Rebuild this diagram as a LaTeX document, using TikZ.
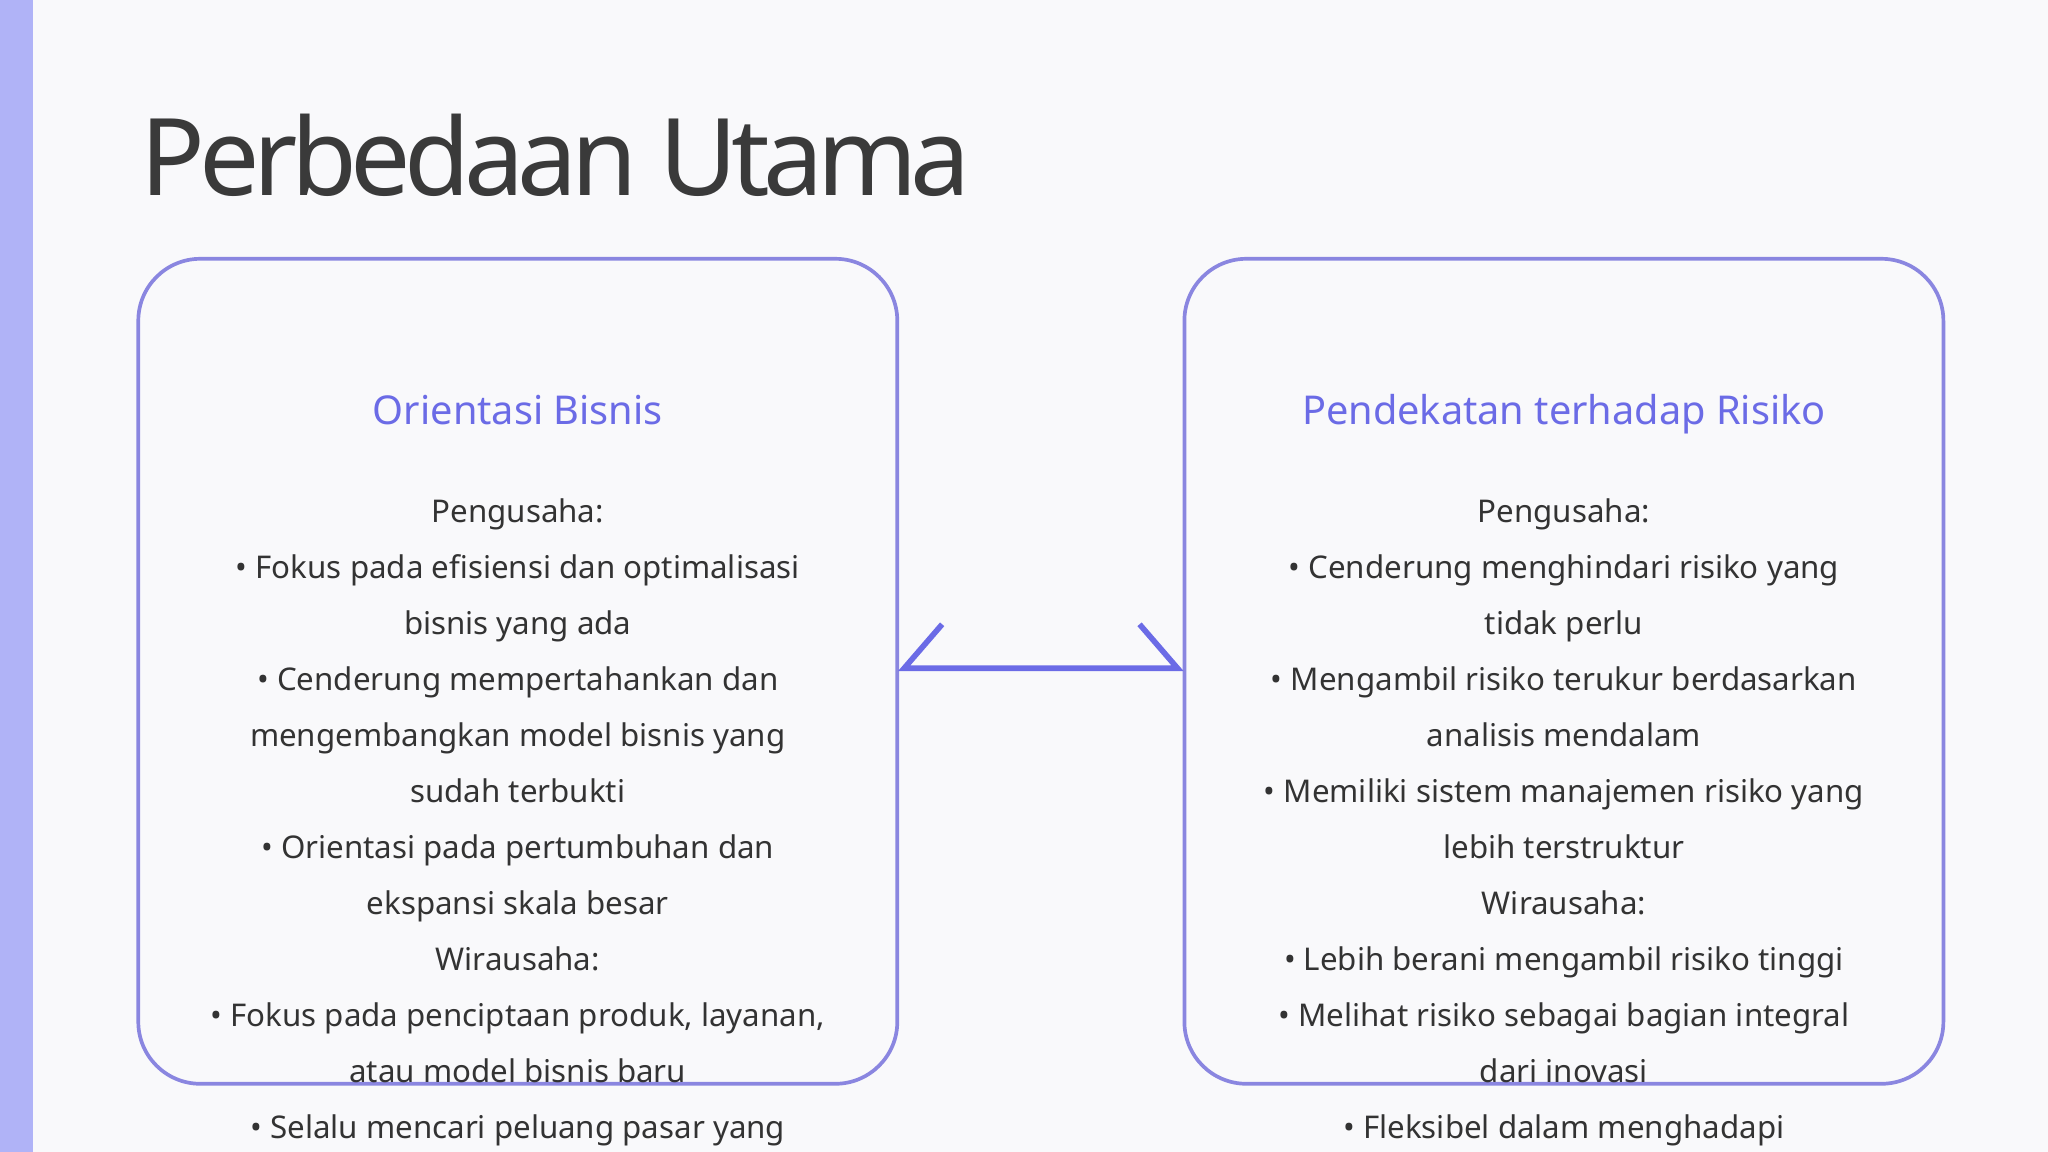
\documentclass[tikz,border=0pt]{standalone}
\usepackage{fontspec}
\setmainfont{Noto Sans}
\usetikzlibrary{positioning}
\definecolor{pagebg}{HTML}{F9F9FB}
\definecolor{sidebar}{HTML}{B0B3F7}
\definecolor{accent}{HTML}{6B6BE6}
\definecolor{boxline}{HTML}{8A86E0}
\definecolor{titlegray}{HTML}{3A3A3A}
\definecolor{bodygray}{HTML}{333333}
\tikzset{
	cardbox/.style={draw=boxline, line width=1.05pt, rounded corners=0.62cm,
		minimum width=7.59cm, minimum height=8.25cm},
	cardhead/.style={text=accent, anchor=base, font=\fontsize{11.3}{14}\selectfont},
	cardbody/.style={text=bodygray, align=center, anchor=north,
		font=\fontsize{8.9}{15.95}\selectfont},
}
\begin{document}
\begin{tikzpicture}
	\useasboundingbox (0,0) rectangle (20.48,-11.52);
	\fill[pagebg] (0,0) rectangle (20.48,-11.52);
	\fill[sidebar] (0,0) rectangle (0.33,-11.52);

	\node[anchor=base west, inner sep=0, text=titlegray,
		font=\fontsize{30.5}{36}\selectfont\addfontfeature{LetterSpace=-6}] (title) at (1.40,-1.96) {Perbedaan Utama};

	\node[cardbox] (lbox) at (5.178,-6.713) {};
	\node[cardbox] (rbox) at (15.639,-6.713) {};

	\node[cardhead] (lhead) at (5.178,-4.24) {Orientasi Bisnis};
	\node[cardhead] (rhead) at (15.639,-4.24) {Pendekatan terhadap Risiko};

	\node[cardbody] (lbody) at (5.178,-4.86) {Pengusaha:\\
		• Fokus pada efisiensi dan optimalisasi\\
		bisnis yang ada\\
		• Cenderung mempertahankan dan\\
		mengembangkan model bisnis yang\\
		sudah terbukti\\
		• Orientasi pada pertumbuhan dan\\
		ekspansi skala besar\\
		Wirausaha:\\
		• Fokus pada penciptaan produk, layanan,\\
		atau model bisnis baru\\
		• Selalu mencari peluang pasar yang};
	\node[cardbody] (rbody) at (15.639,-4.86) {Pengusaha:\\
		• Cenderung menghindari risiko yang\\
		tidak perlu\\
		• Mengambil risiko terukur berdasarkan\\
		analisis mendalam\\
		• Memiliki sistem manajemen risiko yang\\
		lebih terstruktur\\
		Wirausaha:\\
		• Lebih berani mengambil risiko tinggi\\
		• Melihat risiko sebagai bagian integral\\
		dari inovasi\\
		• Fleksibel dalam menghadapi};

	% two-way link between the cards
	\draw[accent, line width=1.6pt]
		([shift={(0.43,0.47)}]lbox.east) -- ([shift={(0.05,0.03)}]lbox.east)
		-- ([shift={(-0.05,0.03)}]rbox.west) -- ++(-0.38,0.44);
\end{tikzpicture}
\end{document}
